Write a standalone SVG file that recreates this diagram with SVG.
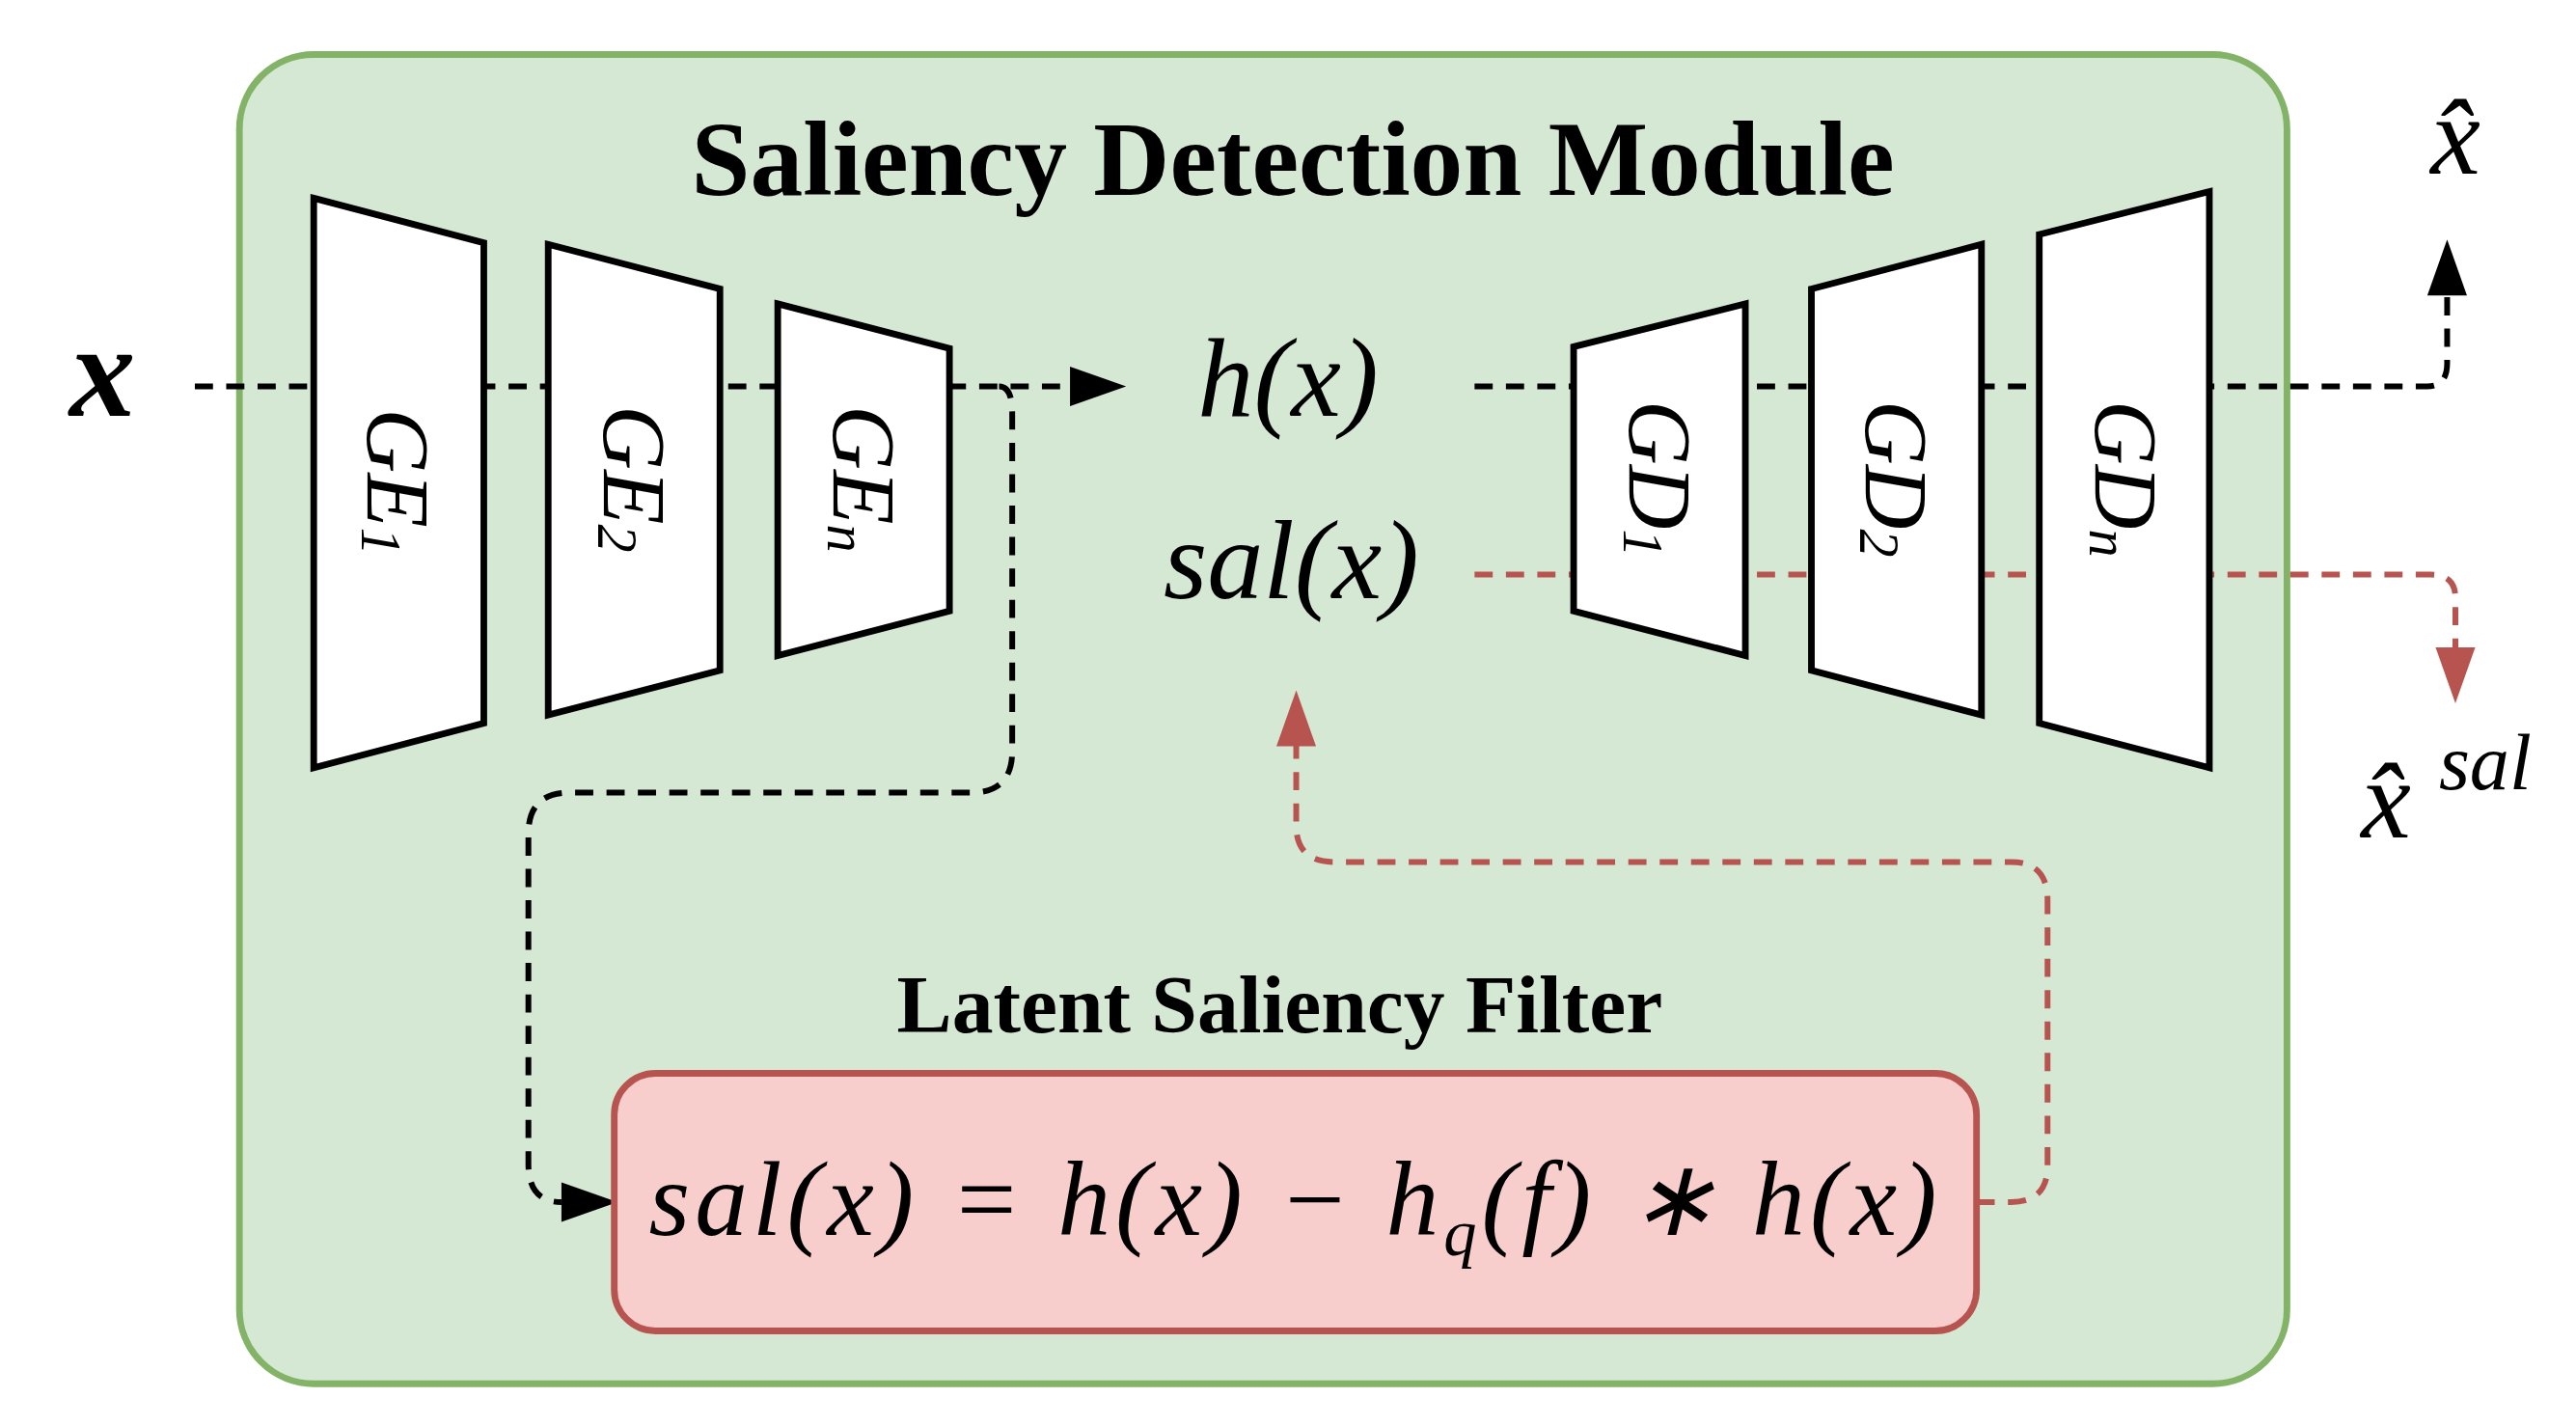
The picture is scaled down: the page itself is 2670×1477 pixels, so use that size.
<svg xmlns="http://www.w3.org/2000/svg" width="2670" height="1477" viewBox="0 0 2670 1477">
<style>
.blk{fill:#fff;stroke:#000;stroke-width:4}
.m{font-family:"Liberation Serif",serif;font-style:italic;fill:#000}
.b{font-family:"Liberation Serif",serif;font-weight:bold;fill:#000}
.dk{fill:none;stroke:#000;stroke-width:3.5;stroke-dasharray:11 8}
.dr{fill:none;stroke:#b85450;stroke-width:3.5;stroke-dasharray:11 8}
</style>
<rect width="2670" height="1477" fill="#fff"/>
<g transform="scale(1.7115)">
<g id="module"><rect x="145" y="33" width="1240" height="805" rx="45" fill="#d5e8d4" stroke="#82b366" stroke-width="4"/>
<text class="b" x="783" y="118" font-size="64" text-anchor="middle">Saliency Detection Module</text></g>
<g id="connectors">
<path class="dk" d="M118,234H650"/>
<path class="dk" d="M893,234H1470Q1482,234 1482,220V175"/>
<path d="M648,222L682,234L648,246z" fill="#000"/>
<path d="M1470,179L1482,145L1494,179z" fill="#000"/>
<path class="dr" d="M893,348H1472Q1487,348 1487,362V395"/>
<path d="M1475,392L1487,426L1499,392z" fill="#b85450"/>
<path class="dk" d="M605,234Q613,234 613,250V455Q613,480 588,480H345Q320,480 320,505V705Q320,728 340,728"/>
<path d="M340,716L374,728L340,740z" fill="#000"/>
<path class="dr" d="M1197,728H1218Q1240,728 1240,706V545Q1240,522 1218,522H808Q785,522 785,500V450"/>
<path d="M773,452L785,418L797,452z" fill="#b85450"/>
</g>
<g id="GE1"><polygon class="blk" points="190,120 293,147 293,438 190,465"/><text class="m" transform="translate(241,292) rotate(90)" font-size="54" text-anchor="middle" dominant-baseline="central">GE<tspan font-size="34" dy="10">1</tspan></text></g>
<g id="GE2"><polygon class="blk" points="332,148 436,175 436,406 332,433"/><text class="m" transform="translate(384,290) rotate(90)" font-size="54" text-anchor="middle" dominant-baseline="central">GE<tspan font-size="34" dy="10">2</tspan></text></g>
<g id="GEn"><polygon class="blk" points="471,184 575,211 575,370 471,397"/><text class="m" transform="translate(523,290) rotate(90)" font-size="54" text-anchor="middle" dominant-baseline="central">GE<tspan font-size="34" dy="10">n</tspan></text></g>
<g id="GD1"><polygon class="blk" points="953,210 1057,184 1057,397 953,370"/><text class="m" transform="translate(1005,290) rotate(90)" font-size="54" text-anchor="middle" dominant-baseline="central">GD<tspan font-size="34" dy="10">1</tspan></text></g>
<g id="GD2"><polygon class="blk" points="1097,175 1200,148 1200,433 1097,406"/><text class="m" transform="translate(1148,290) rotate(90)" font-size="54" text-anchor="middle" dominant-baseline="central">GD<tspan font-size="34" dy="10">2</tspan></text></g>
<g id="GDn"><polygon class="blk" points="1235,142 1338,116 1338,465 1235,438"/><text class="m" transform="translate(1287,290) rotate(90)" font-size="54" text-anchor="middle" dominant-baseline="central">GD<tspan font-size="34" dy="10">n</tspan></text></g>
<g id="labels">
<text class="m" x="62" y="252" font-size="80" text-anchor="middle" font-weight="bold">x</text>
<text class="m" x="780" y="252" font-size="68" text-anchor="middle">h(x)</text>
<text class="m" x="782" y="362" font-size="68" text-anchor="middle">sal(x)</text>
<text class="m" x="1487" y="105" font-size="68" text-anchor="middle">x̂</text>
<text class="m" x="1445" y="507" font-size="68" text-anchor="middle">x̂</text>
<text class="m" x="1505" y="478" font-size="48" text-anchor="middle">sal</text>
</g>
<g id="filter">
<text class="b" x="775" y="625" font-size="50" text-anchor="middle">Latent Saliency Filter</text>
<rect x="372" y="650" width="825" height="156" rx="25" fill="#f8cecc" stroke="#b85450" stroke-width="4"/>
<text class="m" x="783" y="748" font-size="64" text-anchor="middle" textLength="780" lengthAdjust="spacing">sal(x) = h(x) − h<tspan font-size="40" dy="12">q</tspan><tspan dy="-12">(f) ∗ h(x)</tspan></text>
</g>
</g>
</svg>
